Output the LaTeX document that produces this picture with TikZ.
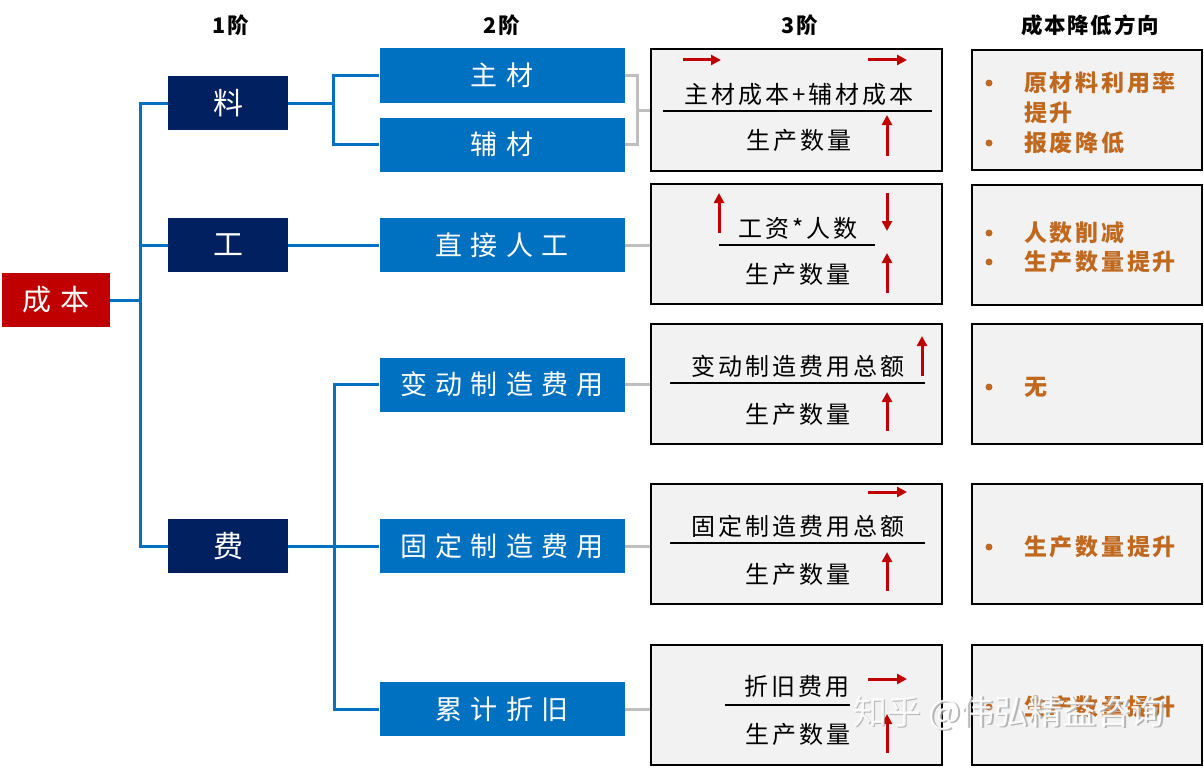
\documentclass[tikz,border=0pt]{standalone}
\usepackage{fontspec}
\usetikzlibrary{arrows.meta}
\setmainfont{Noto Sans CJK SC}
\newfontfamily\cjk[LetterSpace=12]{Noto Sans CJK SC}
\newfontfamily\cjkhead[LetterSpace=8]{Noto Sans CJK SC}
\newfontfamily\cjkwide[LetterSpace=30]{Noto Sans CJK SC}
\newfontfamily\cjkplain{Noto Sans CJK SC}
\definecolor{costred}{HTML}{C00000}
\definecolor{navy}{HTML}{002060}
\definecolor{midblue}{HTML}{0070C0}
\definecolor{linegray}{HTML}{BFBFBF}
\definecolor{boxfill}{HTML}{F2F2F2}
\definecolor{orangetxt}{HTML}{C0681E}
\definecolor{arrowred}{HTML}{C00000}
\tikzset{
  rootbox/.style={fill=costred, text=white, minimum width=108pt, minimum height=54pt, inner sep=0pt, font=\cjkwide\fontsize{29}{32}\selectfont},
  lvlone/.style={fill=navy, text=white, minimum width=120pt, minimum height=54pt, inner sep=0pt, font=\cjkplain\fontsize{30}{32}\selectfont},
  lvltwo/.style={fill=midblue, text=white, minimum width=245pt, minimum height=54pt, inner sep=0pt, font=\cjkwide\fontsize{27}{30}\selectfont},
  fracbox/.style={draw=black, line width=2pt, fill=boxfill, minimum width=291pt, minimum height=120pt, inner sep=0pt},
  dirbox/.style={draw=black, line width=2pt, fill=boxfill, minimum width=230pt, minimum height=120pt, inner sep=0pt},
  fractext/.style={font=\cjk\fontsize{24}{27}\selectfont, text=black, inner sep=0pt},
  fracline/.style={line width=2.6pt, black},
  dirtext/.style={font=\cjk\bfseries\fontsize{23}{26}\selectfont, text=orangetxt, inner sep=0pt, anchor=west},
  bulletdot/.style={circle, fill=orangetxt, minimum size=7pt, inner sep=0pt},
  header/.style={font=\cjkhead\bfseries\fontsize{21.5}{24}\selectfont, text=black, inner sep=0pt},
  blueline/.style={draw=midblue, line width=3pt},
  grayline/.style={draw=linegray, line width=3pt},
  redarrow/.style={draw=arrowred, line width=3pt, -{Triangle[length=10pt,width=10pt]}, arrowred},
}
\begin{document}
\begin{tikzpicture}[x=1pt,y=-1pt]
\useasboundingbox (0,0) rectangle (1204,768);

% headers
\node[header] (h1) at (231,25) {1阶};
\node[header] (h2) at (502,25) {2阶};
\node[header] (h3) at (800,25) {3阶};
\node[header] (h4) at (1090,25) {成本降低方向};

% nodes
\node[rootbox] (cost) at (56,300) {成本};
\node[lvlone] (liao) at (228,103) {料};
\node[lvlone] (gong) at (228,245) {工};
\node[lvlone] (fei) at (228,546) {费};

\node[lvltwo] (zhucai) at (502,75.5) {主材};
\node[lvltwo] (fucai) at (502,144.5) {辅材};
\node[lvltwo] (zhijie) at (502,245) {直接人工};
\node[lvltwo] (biandong) at (502,384.5) {变动制造费用};
\node[lvltwo] (guding) at (502,546) {固定制造费用};
\node[lvltwo] (leiji) at (502,709) {累计折旧};

\node[fracbox, minimum height=122pt] (f1) at (796.5,110) {};
\node[fracbox] (f2) at (796.5,244) {};
\node[fracbox] (f3) at (796.5,384) {};
\node[fracbox] (f4) at (796.5,544) {};
\node[fracbox] (f5) at (796.5,705) {};

\node[dirbox] (r1) at (1087,110) {};
\node[dirbox] (r2) at (1087,245) {};
\node[dirbox] (r3) at (1087,384) {};
\node[dirbox] (r4) at (1087,544) {};
\node[dirbox] (r5) at (1087,705) {};

% blue connectors
\coordinate (trunk) at (140,300);
\draw[blueline] (cost.east) -- (trunk);
\draw[blueline] (liao.west) -| (trunk);
\draw[blueline] (gong.west) -| (trunk);
\draw[blueline] (fei.west) -| (trunk);

\coordinate (bl) at (333,103);
\draw[blueline] (liao.east) -- (bl);
\draw[blueline] (zhucai.west) -| (bl);
\draw[blueline] (fucai.west) -| (bl);
\draw[blueline] (gong.east) -- (zhijie.west);

\coordinate (bf) at (334,546);
\draw[blueline] (fei.east) -- (bf);
\draw[blueline] (biandong.west) -| (bf);
\draw[blueline] (guding.west) -- (bf);
\draw[blueline] (leiji.west) -| (bf);

% gray connectors
\coordinate (gm) at (637,110);
\draw[grayline] (zhucai.east) -| (gm);
\draw[grayline] (fucai.east) -| (gm);
\draw[grayline] (gm) -- (f1.west);
\draw[grayline] (zhijie.east) -- (zhijie.east -| f2.west);
\draw[grayline] (biandong.east) -- (biandong.east -| f3.west);
\draw[grayline] (guding.east) -- (guding.east -| f4.west);
\draw[grayline] (leiji.east) -- (leiji.east -| f5.west);

% fraction 1
\node[fractext] (n1) at (799,94) {主材成本+辅材成本};
\draw[fracline] (663,111) -- (932,111);
\node[fractext] (d1) at (799,140) {生产数量};
\draw[redarrow] (683,60) -- (721,60);
\draw[redarrow] (868,60) -- (907,60);
\draw[redarrow] (887,156) -- (887,115);

% fraction 2
\node[fractext] (n2) at (798,228) {工资*人数};
\draw[fracline] (719,245) -- (875,245);
\node[fractext] (d2) at (798,274) {生产数量};
\draw[redarrow] (719,233) -- (719,193);
\draw[redarrow] (887,193) -- (887,231);
\draw[redarrow] (887,293) -- (887,253);

% fraction 3
\node[fractext] (n3) at (798,366) {变动制造费用总额};
\draw[fracline] (670,383) -- (925,383);
\node[fractext] (d3) at (798,414) {生产数量};
\draw[redarrow] (922,376) -- (922,336);
\draw[redarrow] (887,431) -- (887,392);

% fraction 4
\node[fractext] (n4) at (798,526) {固定制造费用总额};
\draw[fracline] (670,543) -- (925,543);
\node[fractext] (d4) at (798,574) {生产数量};
\draw[redarrow] (868,492) -- (907,492);
\draw[redarrow] (887,591) -- (887,552);

% fraction 5
\node[fractext] (n5) at (797,686) {折旧费用};
\draw[fracline] (725,705) -- (850,705);
\node[fractext] (d5) at (798,734) {生产数量};
\draw[redarrow] (868,679) -- (907,679);
\draw[redarrow] (887,753) -- (887,714);

% direction texts
\node[bulletdot] (b11) at (989,83) {};
\node[dirtext] (t11) at (1024,83) {原材料利用率};
\node[dirtext] (t12) at (1024,113) {提升};
\node[bulletdot] (b12) at (989,143) {};
\node[dirtext] (t13) at (1024,143) {报废降低};

\node[bulletdot] (b21) at (989,233) {};
\node[dirtext] (t21) at (1024,233) {人数削减};
\node[bulletdot] (b22) at (989,262) {};
\node[dirtext] (t22) at (1024,262) {生产数量提升};

\node[bulletdot] (b31) at (989,387) {};
\node[dirtext] (t31) at (1024,387) {无};

\node[bulletdot] (b41) at (989,547) {};
\node[dirtext] (t41) at (1024,547) {生产数量提升};

\node[bulletdot] (b51) at (989,707) {};
\node[dirtext] (t51) at (1024,707) {生产数量提升};

% watermark
\node[font=\cjkplain\fontsize{34}{36}\selectfont, text=gray!70, opacity=0.8, inner sep=0pt] (wms) at (1010.5,714.5) {知乎 @伟弘精益咨询};
\node[font=\cjkplain\fontsize{34}{36}\selectfont, text=white, opacity=0.9, inner sep=0pt] (wm) at (1009,713) {知乎 @伟弘精益咨询};
\end{tikzpicture}
\end{document}
